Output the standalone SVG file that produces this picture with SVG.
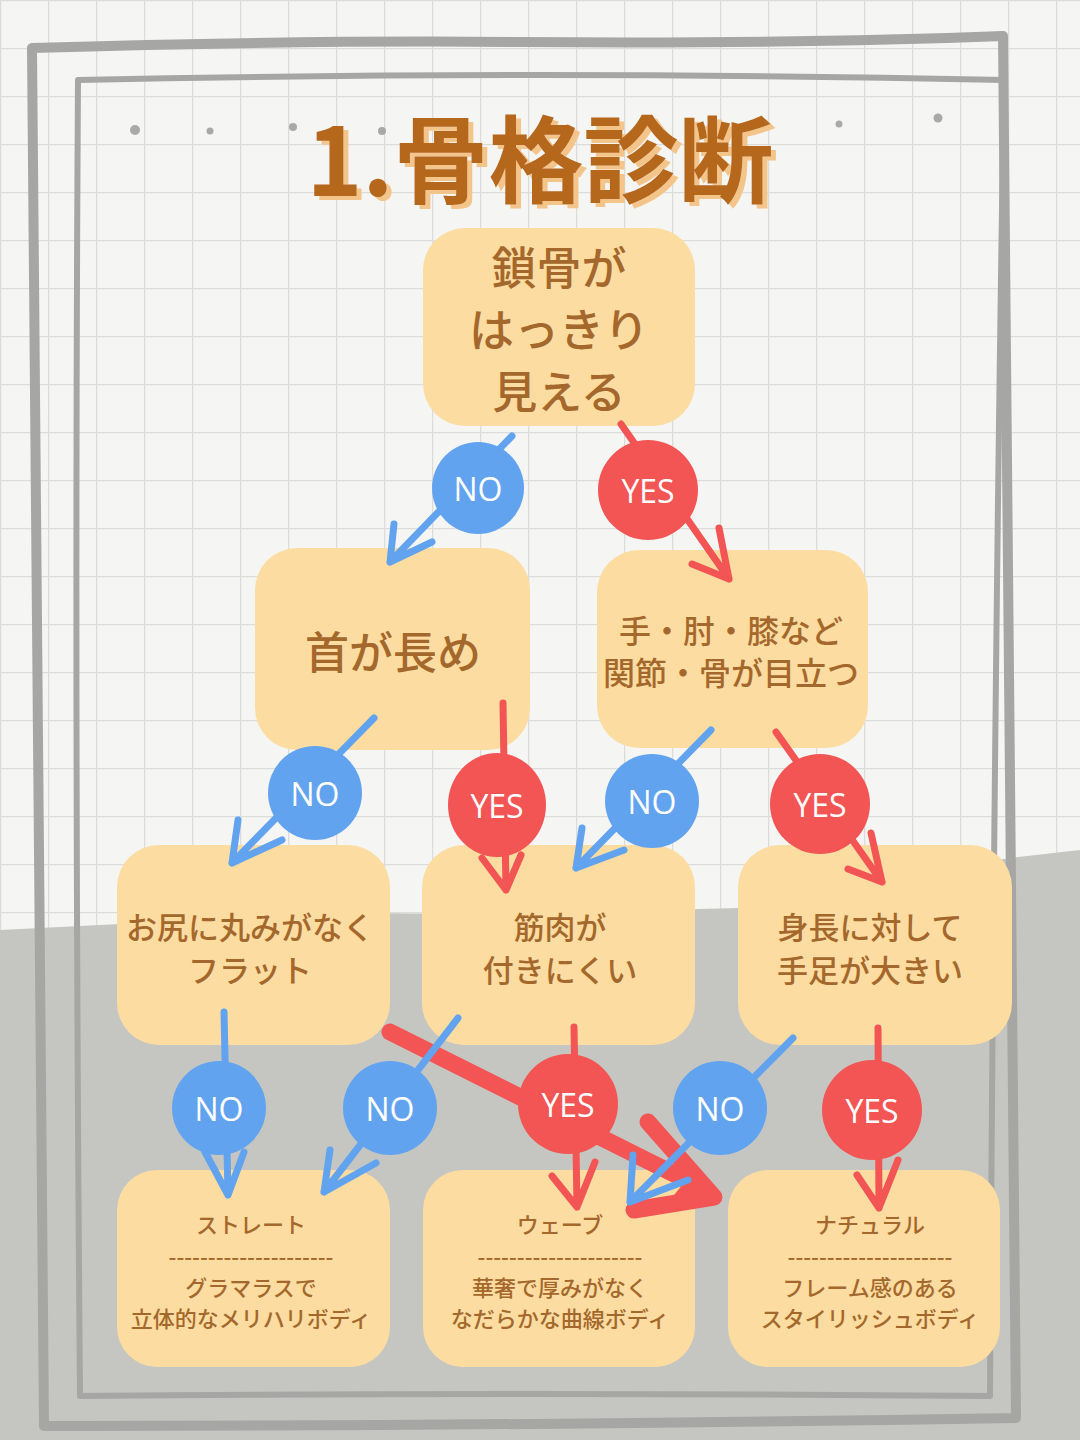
<svg xmlns="http://www.w3.org/2000/svg" width="1080" height="1440" viewBox="0 0 1080 1440">
<defs>
<pattern id="grid" x="0" y="0" width="48" height="48" patternUnits="userSpaceOnUse">
<path d="M0,0.5 H48 M0.5,0 V48" fill="none" stroke="#dcdcdb" stroke-width="1.6"/>
</pattern>
<filter id="shadow" x="-10%" y="-20%" width="120%" height="140%">
<feOffset in="SourceAlpha" dx="5" dy="4" result="off"/>
<feFlood flood-color="#f4c58a"/>
<feComposite in2="off" operator="in" result="sh"/>
<feMerge><feMergeNode in="sh"/><feMergeNode in="SourceGraphic"/></feMerge>
</filter>
<style>
.box{fill:#fddca1}
.t{font-family:"Noto Sans CJK JP","Noto Sans CJK SC",sans-serif;fill:#a5682c;text-anchor:middle;dominant-baseline:central;font-weight:500}
.b{font-family:"Open Sans","Noto Sans",sans-serif;fill:#ffffff;text-anchor:middle;dominant-baseline:central;font-size:32px}
.no{fill:#62a3ef}
.yes{fill:#f35454}
.an{fill:none;stroke:#62a3ef;stroke-width:7;stroke-linecap:round;stroke-linejoin:round}
.ay{fill:none;stroke:#f35454;stroke-width:7;stroke-linecap:round;stroke-linejoin:round}
.frame{fill:none;stroke:#a6a6a4;stroke-linecap:round;stroke-linejoin:round}
.dot{fill:#a9a9a7}
</style>
</defs>
<g id="background">
<rect x="0" y="0" width="1080" height="1440" fill="#f5f5f4"/>
<rect x="0" y="0" width="1080" height="1440" fill="url(#grid)"/>
<path d="M0,930 L80,926 L160,922 L260,916 L360,913 L460,914 L560,911 L660,910 L740,908 L820,898 L900,882 L960,866 L1010,858 L1080,850 L1080,1440 L0,1440 Z" fill="#c5c6c2"/>
</g>
<g id="frame">
<path class="frame" stroke-width="10" d="M32,48 Q300,40 520,42 Q800,44 1003,36 Q1008,700 1016,1418 Q520,1426 44,1426 Q36,700 32,48 Z"/>
<path class="frame" stroke-width="6" d="M78,80 Q540,70 1004,80 Q994,700 990,1396 Q540,1392 80,1396 Q74,700 78,80 Z"/>
</g>
<g id="title">
<circle class="dot" cx="135" cy="130" r="5"/>
<circle class="dot" cx="210" cy="131" r="3.5"/>
<circle class="dot" cx="293" cy="127" r="4"/>
<circle class="dot" cx="382" cy="131" r="4"/>
<circle class="dot" cx="839" cy="124" r="3.5"/>
<circle class="dot" cx="938" cy="118" r="4.5"/>
<text x="540" y="154" class="t" filter="url(#shadow)" style="font-size:95px;font-weight:700;fill:#b5671f">1.骨格診断</text>
</g>
<g id="node-collarbone">
<rect class="box" x="423" y="228" width="272" height="198" rx="42"/>
<text class="t" x="559" y="265" font-size="45">鎖骨が</text>
<text class="t" x="559" y="327" font-size="45">はっきり</text>
<text class="t" x="559" y="389" font-size="45">見える</text>
</g>
<g id="node-neck">
<rect class="box" x="255" y="548" width="275" height="202" rx="42"/>
<text class="t" x="393" y="650" font-size="44">首が長め</text>
</g>
<g id="node-joints">
<rect class="box" x="597" y="550" width="271" height="198" rx="42"/>
<text class="t" x="731" y="629" font-size="32">手・肘・膝など</text>
<text class="t" x="731" y="671" font-size="32">関節・骨が目立つ</text>
</g>
<g id="node-hips">
<rect class="box" x="117" y="845" width="273" height="200" rx="42"/>
<text class="t" x="250" y="925" font-size="31">お尻に丸みがなく</text>
<text class="t" x="250" y="968" font-size="31">フラット</text>
</g>
<g id="node-muscle">
<rect class="box" x="422" y="845" width="273" height="200" rx="42"/>
<text class="t" x="560" y="925" font-size="31">筋肉が</text>
<text class="t" x="560" y="968" font-size="31">付きにくい</text>
</g>
<g id="node-limbs">
<rect class="box" x="738" y="845" width="274" height="200" rx="42"/>
<text class="t" x="870" y="925" font-size="31">身長に対して</text>
<text class="t" x="870" y="968" font-size="31">手足が大きい</text>
</g>
<g id="node-straight">
<rect class="box" x="117" y="1170" width="273" height="197" rx="40"/>
<text class="t" x="251" y="1223" font-size="22">ストレート</text>
<text class="t" x="251" y="1255" font-size="22">---------------------</text>
<text class="t" x="251" y="1286" font-size="22">グラマラスで</text>
<text class="t" x="251" y="1317" font-size="22">立体的なメリハリボディ</text>
</g>
<g id="node-wave">
<rect class="box" x="423" y="1170" width="272" height="197" rx="40"/>
<text class="t" x="560" y="1223" font-size="22">ウェーブ</text>
<text class="t" x="560" y="1255" font-size="22">---------------------</text>
<text class="t" x="560" y="1286" font-size="22">華奢で厚みがなく</text>
<text class="t" x="560" y="1317" font-size="22">なだらかな曲線ボディ</text>
</g>
<g id="node-natural">
<rect class="box" x="728" y="1170" width="272" height="197" rx="40"/>
<text class="t" x="870" y="1223" font-size="22">ナチュラル</text>
<text class="t" x="870" y="1255" font-size="22">---------------------</text>
<text class="t" x="870" y="1286" font-size="22">フレーム感のある</text>
<text class="t" x="870" y="1317" font-size="22">スタイリッシュボディ</text>
</g>
<g id="connectors">
<path class="ay" style="stroke-width:17" d="M390,1032 L708,1191 M648,1122 L714,1197 L634,1210"/>
<path d="M696,1168 L716,1198 L666,1205 Z" fill="#f35454"/>
<path class="an" d="M512,436 L390,562 M394,524 L390,562 L432,542"/>
<path class="ay" d="M621,424 L729,579 M719,528 L729,579 L692,564"/>
<path class="an" d="M374,718 L232,863 M238,820 L232,863 L282,840"/>
<path class="ay" d="M503,703 L506,890 M482,858 L506,890 L521,855"/>
<path class="an" d="M711,730 L576,868 M582,828 L576,868 L624,850"/>
<path class="ay" d="M776,732 L882,882 M871,833 L882,882 L848,869"/>
<path class="an" d="M224,1012 L228,1195 M205,1152 L228,1195 L244,1152"/>
<path class="an" d="M458,1018 L324,1192 M330,1150 L324,1192 L376,1163"/>
<path class="ay" d="M574,1027 L577,1207 M552,1176 L577,1207 L595,1162"/>
<path class="an" d="M793,1038 L630,1202 M633,1155 L630,1202 L688,1180"/>
<path class="ay" d="M878,1028 L879,1208 M857,1175 L879,1208 L898,1160"/>
</g>
<g id="labels">
<g id="label-no-1"><circle class="no" cx="478" cy="488" r="46"/><text class="b" x="478" y="488">NO</text></g>
<g id="label-yes-1"><circle class="yes" cx="648" cy="490" r="50"/><text class="b" x="648" y="490">YES</text></g>
<g id="label-no-2"><circle class="no" cx="315" cy="793" r="47"/><text class="b" x="315" y="793">NO</text></g>
<g id="label-yes-2"><ellipse class="yes" cx="497" cy="805" rx="49" ry="52"/><text class="b" x="497" y="805">YES</text></g>
<g id="label-no-3"><circle class="no" cx="652" cy="801" r="47"/><text class="b" x="652" y="801">NO</text></g>
<g id="label-yes-3"><circle class="yes" cx="820" cy="804" r="50"/><text class="b" x="820" y="804">YES</text></g>
<g id="label-no-4"><circle class="no" cx="219" cy="1108" r="47"/><text class="b" x="219" y="1108">NO</text></g>
<g id="label-no-5"><circle class="no" cx="390" cy="1108" r="47"/><text class="b" x="390" y="1108">NO</text></g>
<g id="label-yes-4"><circle class="yes" cx="568" cy="1104" r="50"/><text class="b" x="568" y="1104">YES</text></g>
<g id="label-no-6"><circle class="no" cx="720" cy="1108" r="47"/><text class="b" x="720" y="1108">NO</text></g>
<g id="label-yes-5"><circle class="yes" cx="872" cy="1110" r="50"/><text class="b" x="872" y="1110">YES</text></g>
</g>
</svg>
